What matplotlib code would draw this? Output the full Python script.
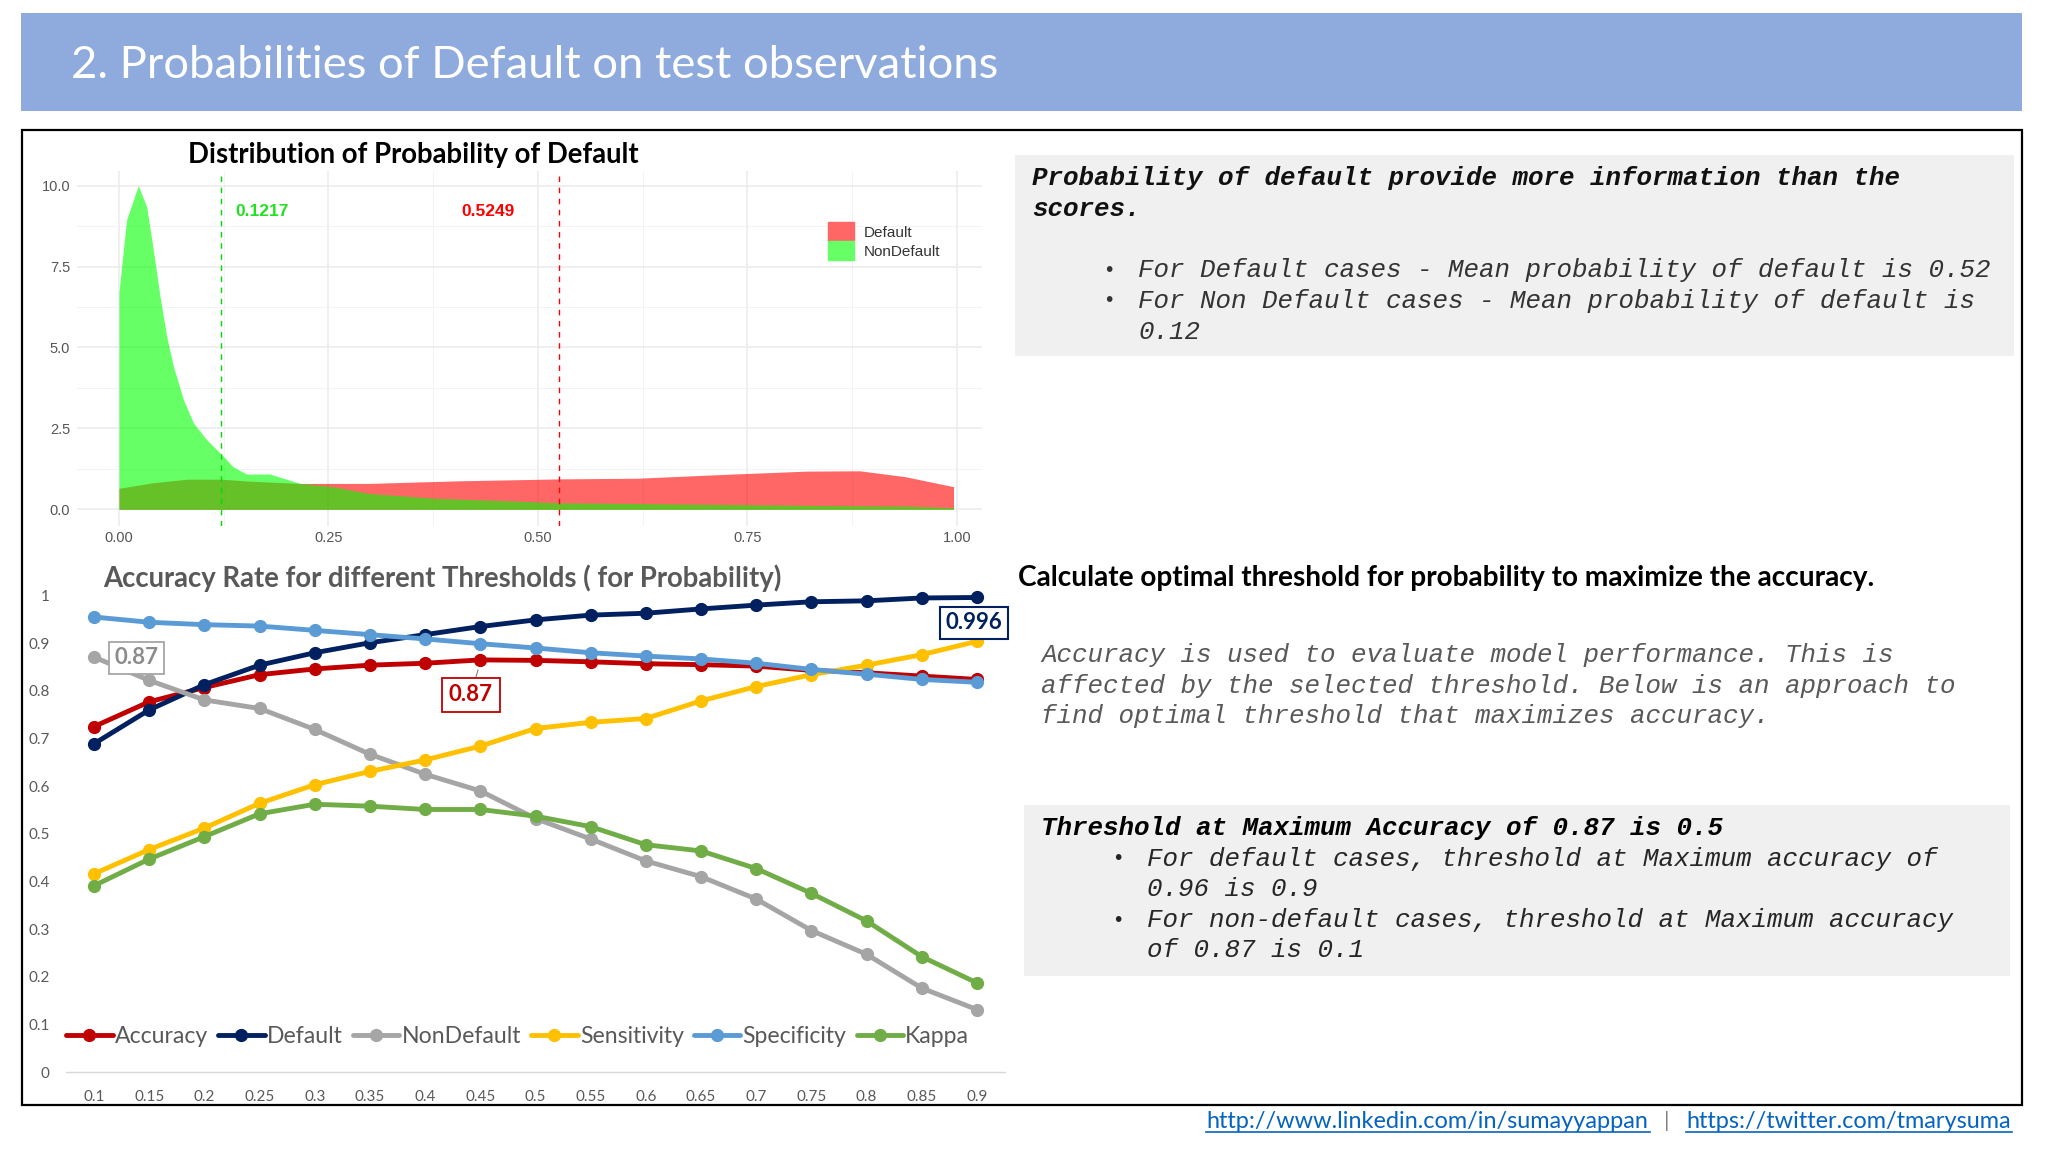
import matplotlib
matplotlib.use('Agg')
import matplotlib.pyplot as plt
from matplotlib.patches import Rectangle, Patch

# density of predicted probability of default
nondef_x = [0.0, 0.009, 0.023, 0.033, 0.041, 0.049, 0.057, 0.065, 0.077, 0.089, 0.105, 0.123,
            0.136, 0.152, 0.180, 0.200, 0.216, 0.256, 0.298, 0.378, 0.458, 0.527, 0.618,
            0.724, 0.832, 0.938, 0.996]
nondef_y = [6.72, 8.94, 10.0, 9.35, 8.01, 6.57, 5.33, 4.41, 3.38, 2.66, 2.14, 1.68,
            1.32, 1.09, 1.09, 0.93, 0.80, 0.70, 0.49, 0.34, 0.27, 0.20, 0.18,
            0.15, 0.12, 0.10, 0.05]
default_x = [0.0, 0.04, 0.081, 0.123, 0.156, 0.216, 0.298, 0.405, 0.527, 0.618, 0.724,
             0.821, 0.884, 0.938, 0.996]
default_y = [0.65, 0.82, 0.93, 0.93, 0.87, 0.80, 0.80, 0.88, 0.94, 0.96, 1.08,
             1.18, 1.19, 1.01, 0.70]
mean_nondef = 0.1217
mean_default = 0.5249

# accuracy by threshold (Excel line chart)
thresholds = ['0.1', '0.15', '0.2', '0.25', '0.3', '0.35', '0.4', '0.45', '0.5',
              '0.55', '0.6', '0.65', '0.7', '0.75', '0.8', '0.85', '0.9']
accuracy = [0.725, 0.777, 0.807, 0.834, 0.846, 0.854, 0.858, 0.865, 0.864,
            0.861, 0.857, 0.855, 0.852, 0.843, 0.838, 0.831, 0.824]
default_acc = [0.689, 0.760, 0.813, 0.854, 0.880, 0.901, 0.918, 0.935, 0.949,
               0.959, 0.963, 0.972, 0.980, 0.987, 0.989, 0.995, 0.996]
nondefault_acc = [0.871, 0.822, 0.781, 0.763, 0.719, 0.667, 0.625, 0.590, 0.532,
                  0.489, 0.443, 0.410, 0.363, 0.297, 0.247, 0.176, 0.131]
sensitivity = [0.416, 0.467, 0.512, 0.564, 0.603, 0.631, 0.655, 0.684, 0.721,
               0.734, 0.742, 0.779, 0.809, 0.834, 0.854, 0.876, 0.904]
specificity = [0.955, 0.944, 0.939, 0.936, 0.927, 0.918, 0.909, 0.899, 0.890,
               0.880, 0.873, 0.867, 0.858, 0.845, 0.835, 0.824, 0.818]
kappa = [0.391, 0.447, 0.494, 0.542, 0.562, 0.558, 0.551, 0.551, 0.537,
         0.515, 0.477, 0.464, 0.427, 0.375, 0.317, 0.242, 0.187]

series = [('Accuracy', accuracy, '#C00000'),
          ('Default', default_acc, '#002060'),
          ('NonDefault', nondefault_acc, '#A5A5A5'),
          ('Sensitivity', sensitivity, '#FFC000'),
          ('Specificity', specificity, '#5B9BD5'),
          ('Kappa', kappa, '#70AD47')]

W, H = 2048, 1152
fig = plt.figure(figsize=(W / 100, H / 100), dpi=100)
renderer = fig.canvas.get_renderer()

# slide background axes in pixel coordinates
bg = fig.add_axes([0, 0, 1, 1])
bg.set_xlim(0, W)
bg.set_ylim(H, 0)
bg.axis('off')


def fit_text(ax, x, y, s, width, fs=20, **kw):
    t = ax.text(x, y, s, fontsize=fs, **kw)
    w = t.get_window_extent(renderer=renderer).width
    t.set_fontsize(fs * width / w)
    return t


def rect_axes(left, top, right, bottom):
    return fig.add_axes([left / W, 1 - bottom / H, (right - left) / W, (bottom - top) / H])


# header band
bg.add_patch(Rectangle((21, 13), 2001, 98, color='#8FAADC', lw=0))
fit_text(bg, 71, 65, '2. Probabilities of Default on test observations', 927, 36,
         color='white', family='Lato', va='center', ha='left')

# main frame
bg.add_patch(Rectangle((22, 130), 2000, 975, fill=False, ec='black', lw=1.6))

# ---------------- density chart ----------------
ax1 = rect_axes(77.1, 171.1, 982, 525.5)
ax1.set_xlim(-0.05, 1.03)
ax1.set_ylim(-0.5, 10.45)
for sp in ax1.spines.values():
    sp.set_visible(False)
ax1.set_xticks([0, 0.25, 0.5, 0.75, 1.0])
ax1.set_xticklabels(['0.00', '0.25', '0.50', '0.75', '1.00'])
ax1.set_yticks([0, 2.5, 5, 7.5, 10])
ax1.set_yticklabels(['0.0', '2.5', '5.0', '7.5', '10.0'])
ax1.set_xticks([0.125, 0.375, 0.625, 0.875], minor=True)
ax1.set_yticks([1.25, 3.75, 6.25, 8.75], minor=True)
ax1.tick_params(which='both', length=0, labelsize=10.5, labelcolor='#555555',
                labelfontfamily='Liberation Sans')
ax1.tick_params(axis='x', pad=4)
ax1.tick_params(axis='y', pad=5)
ax1.grid(which='major', color='#EBEBEB', lw=1.1)
ax1.grid(which='minor', color='#F3F3F3', lw=0.7)
ax1.set_axisbelow(True)

ax1.fill_between(default_x, default_y, color='#FF0000', alpha=0.6, lw=0, label='Default')
ax1.fill_between(nondef_x, nondef_y, color='#00FF00', alpha=0.6, lw=0, label='NonDefault')
ax1.axvline(mean_nondef, color='#00DD00', lw=1, ls=(0, (4, 4)))
ax1.axvline(mean_default, color='#FF0000', lw=1, ls=(0, (4, 4)))
ax1.text(0.171, 9.2, '%.4f' % mean_nondef, color='#22E022', fontsize=12.5,
         fontweight='bold', family='Liberation Sans', ha='center', va='center')
ax1.text(0.44, 9.2, '%.4f' % mean_default, color='#FF0000', fontsize=12.5,
         fontweight='bold', family='Liberation Sans', ha='center', va='center')

handles = [Patch(facecolor='#FF6666', edgecolor='#FF6666', label='Default'),
           Patch(facecolor='#66FF66', edgecolor='#66FF66', label='NonDefault')]
ax1.legend(handles=handles, loc='upper left', bbox_to_anchor=(0.83, 0.855), frameon=False,
           prop={'family': 'Liberation Sans', 'size': 11}, labelcolor='#333333',
           handlelength=1.7, handleheight=1.45, labelspacing=0.05, handletextpad=0.6,
           borderpad=0, borderaxespad=0)

fit_text(bg, 188, 155, 'Distribution of Probability of Default', 452, 20,
         family='Lato', fontweight='bold', color='black', va='center', ha='left')

# ---------------- accuracy line chart ----------------
ax2 = rect_axes(66.4, 567, 1004.6, 1072)
xs = list(range(len(thresholds)))
for name, vals, col in series:
    ax2.plot(xs, vals, color=col, lw=3.5, marker='o', ms=8.5, label=name,
             solid_capstyle='round', clip_on=False)
ax2.set_xlim(-0.5, len(thresholds) - 0.5)
ax2.set_ylim(0, 1.06)
ax2.set_xticks(xs)
ax2.set_xticklabels(thresholds)
ax2.set_yticks([i / 10 for i in range(11)])
ax2.set_yticklabels(['0', '0.1', '0.2', '0.3', '0.4', '0.5', '0.6', '0.7', '0.8', '0.9', '1'])
for k in ['top', 'right', 'left']:
    ax2.spines[k].set_visible(False)
ax2.spines['bottom'].set_color('#D9D9D9')
ax2.spines['bottom'].set_linewidth(1.0)
ax2.tick_params(length=0, labelsize=11, labelcolor='#595959', labelfontfamily='Lato')
ax2.tick_params(axis='x', pad=13)
ax2.tick_params(axis='y', pad=12)
ax2.patch.set_alpha(0)

ax2.legend(loc='center left', bbox_to_anchor=(0.0, 0.07), ncol=6, frameon=False,
           prop={'family': 'Lato', 'size': 16.6}, labelcolor='#595959',
           handlelength=2.0, handletextpad=0.1, columnspacing=0.45,
           borderpad=0, borderaxespad=0)

ax2.annotate('0.87', xy=(0, nondefault_acc[0]), xytext=(0.77, 0.869), color='#8C8C8C',
             fontsize=16, fontweight='bold', family='Lato', ha='center', va='center',
             bbox=dict(boxstyle='square,pad=0.25', fc='white', ec='#A6A6A6', lw=1.3))
ax2.annotate('0.87', xy=(7, accuracy[7] - 0.004), xytext=(6.83, 0.792), color='#C00000',
             fontsize=16, fontweight='bold', family='Lato', ha='center', va='center',
             bbox=dict(boxstyle='square,pad=0.3', fc='white', ec='#C00000', lw=1.3),
             arrowprops=dict(arrowstyle='-', color='#7F7F7F', lw=0.8, shrinkA=0, shrinkB=6))
ax2.annotate('0.996', xy=(16, default_acc[16]), xytext=(15.94, 0.943), color='#002060',
             fontsize=16, fontweight='bold', family='Lato', ha='center', va='center',
             bbox=dict(boxstyle='square,pad=0.25', fc='white', ec='#002060', lw=1.5))

fit_text(bg, 103, 578, 'Accuracy Rate for different Thresholds ( for Probability)', 680, 20,
         family='Lato', fontweight='bold', color='#595959', va='center', ha='left')

# ---------------- right-hand text ----------------
mono = 'Liberation Mono'
mono_fs = 18.6
bg.add_patch(Rectangle((1015, 155), 999, 201, color='#F0F0F0', lw=0))
bg.text(1032, 178, 'Probability of default provide more information than the', family=mono,
        fontsize=mono_fs, fontweight='bold', fontstyle='italic', color='#111111', va='center')
bg.text(1032, 209, 'scores.', family=mono, fontsize=mono_fs, fontweight='bold',
        fontstyle='italic', color='#111111', va='center')
box1_lines = [(270, True, 'For Default cases - Mean probability of default is 0.52'),
              (301, True, 'For Non Default cases - Mean probability of default is'),
              (332, False, '0.12')]
for y, bullet, s in box1_lines:
    if bullet:
        bg.text(1109, y, '\u2022', family='DejaVu Sans', fontsize=14, color='#333333',
                va='center', ha='center')
    bg.text(1138, y, s, family=mono, fontsize=mono_fs, fontstyle='italic',
            color='#333333', va='center')

fit_text(bg, 1018, 578, 'Calculate optimal threshold for probability to maximize the accuracy.',
         856, 20, family='Lato', fontweight='bold', color='black', va='center', ha='left')

para = ['Accuracy is used to evaluate model performance. This is',
        'affected by the selected threshold. Below is an approach to',
        'find optimal threshold that maximizes accuracy.']
for i, s in enumerate(para):
    bg.text(1041, 655 + i * 30.5, s, family=mono, fontsize=mono_fs, fontstyle='italic',
            color='#595959', va='center')

bg.add_patch(Rectangle((1024, 805), 986, 171, color='#F0F0F0', lw=0))
bg.text(1041, 828, 'Threshold at Maximum Accuracy of 0.87 is 0.5', family=mono,
        fontsize=mono_fs, fontweight='bold', fontstyle='italic', color='black', va='center')
box2_lines = [(859, True, 'For default cases, threshold at Maximum accuracy of'),
              (889, False, '0.96 is 0.9'),
              (920, True, 'For non-default cases, threshold at Maximum accuracy'),
              (950, False, 'of 0.87 is 0.1')]
for y, bullet, s in box2_lines:
    if bullet:
        bg.text(1118, y, '\u2022', family='DejaVu Sans', fontsize=14, color='#262626',
                va='center', ha='center')
    bg.text(1147, y, s, family=mono, fontsize=mono_fs, fontstyle='italic',
            color='#262626', va='center')

# footer links
for x0, width, s in [(1206, 444, 'http://www.linkedin.com/in/sumayyappan'),
                     (1686, 326, 'https://twitter.com/tmarysuma')]:
    fit_text(bg, x0, 1121, s, width, 16, family='Lato', color='#0563C1',
             va='center', ha='left')
    bg.plot([x0, x0 + width], [1132, 1132], color='#0563C1', lw=1.2)
bg.text(1667, 1121, '|', family='Lato', fontsize=16, color='#7F7F7F', va='center', ha='center')

fig.savefig('out.png', dpi=100)
